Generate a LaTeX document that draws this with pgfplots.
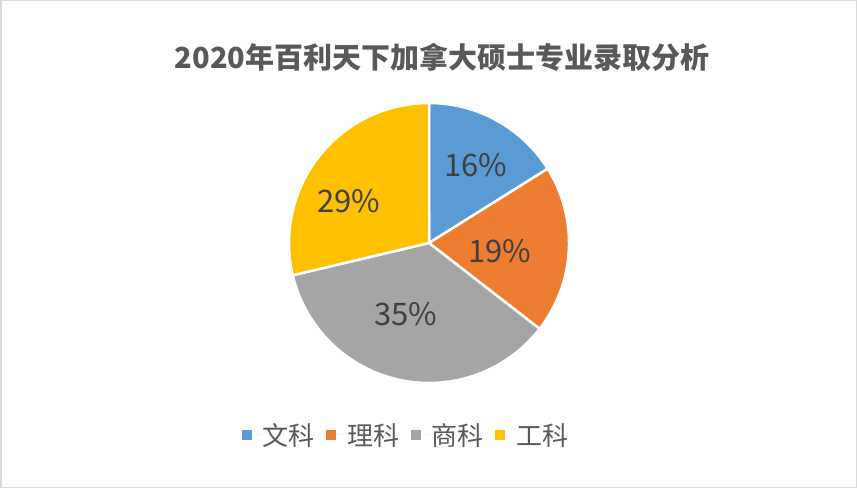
\documentclass[border=0pt]{standalone}
\usepackage{fontspec}
\usepackage{pgfplots}
\pgfplotsset{compat=1.18}
\setmainfont{Noto Sans CJK SC}
\newfontfamily\cjk{Noto Sans CJK SC}
\definecolor{cWen}{HTML}{5B9BD5}
\definecolor{cLi}{HTML}{ED7D31}
\definecolor{cShang}{HTML}{A5A5A5}
\definecolor{cGong}{HTML}{FFC000}
\definecolor{cTitle}{HTML}{595959}
\definecolor{cLab}{HTML}{404040}
\definecolor{cFrame}{HTML}{D9D9D9}
% percentages (clockwise from 12 o'clock)
\def\pWen{16.1}
\def\pLi{19.4}
\def\pShang{35.8}
\def\pGong{28.7}
\newcommand{\slice}[3]{%
  \addplot[fill=#3, draw=white, line width=2.5pt, line join=round,
    domain={3.6*(#1)}:{3.6*(#2)}, samples=80, variable=\t]
    ({429+140*sin(\t)},{245+140*cos(\t)}) -- (axis cs:429,245) -- cycle;}
\begin{document}
\begin{tikzpicture}
\begin{axis}[hide axis, scale only axis, width=857bp, height=488bp,
  xmin=0, xmax=857, ymin=0, ymax=488, clip=false,
  legend columns=4,
  legend style={draw=none, fill=none, at={(axis cs:406,53)}, anchor=center,
    font=\fontsize{26bp}{30bp}\selectfont, text=cTitle,
    /tikz/every even column/.append style={column sep=9.5bp},
    legend cell align=left},
  legend image code/.code={\path[draw=none] (0bp,0bp) -- (19bp,0bp);\path[draw=none, fill] (0bp,-5bp) rectangle (10bp,5bp);},
]
\draw[cFrame, line width=1.5bp] (axis cs:0.75,0.75) rectangle (axis cs:856.25,487.25);
\slice{0}{\pWen}{cWen}
\addlegendentry{文科}
\slice{\pWen}{\pWen+\pLi}{cLi}
\addlegendentry{理科}
\slice{\pWen+\pLi}{\pWen+\pLi+\pShang}{cShang}
\addlegendentry{商科}
\slice{\pWen+\pLi+\pShang}{100}{cGong}
\addlegendentry{工科}
\node[font=\fontsize{29bp}{34bp}\selectfont\bfseries, text=cTitle] at (axis cs:442,431) {2020年百利天下加拿大硕士专业录取分析};
\begin{scope}[every node/.style={font=\fontsize{31bp}{36bp}\selectfont, text=cLab}]
\node at (axis cs:476,323) {16\%};
\node at (axis cs:500,237) {19\%};
\node at (axis cs:406,174) {35\%};
\node at (axis cs:349,287) {29\%};
\end{scope}
\end{axis}
\end{tikzpicture}
\end{document}
